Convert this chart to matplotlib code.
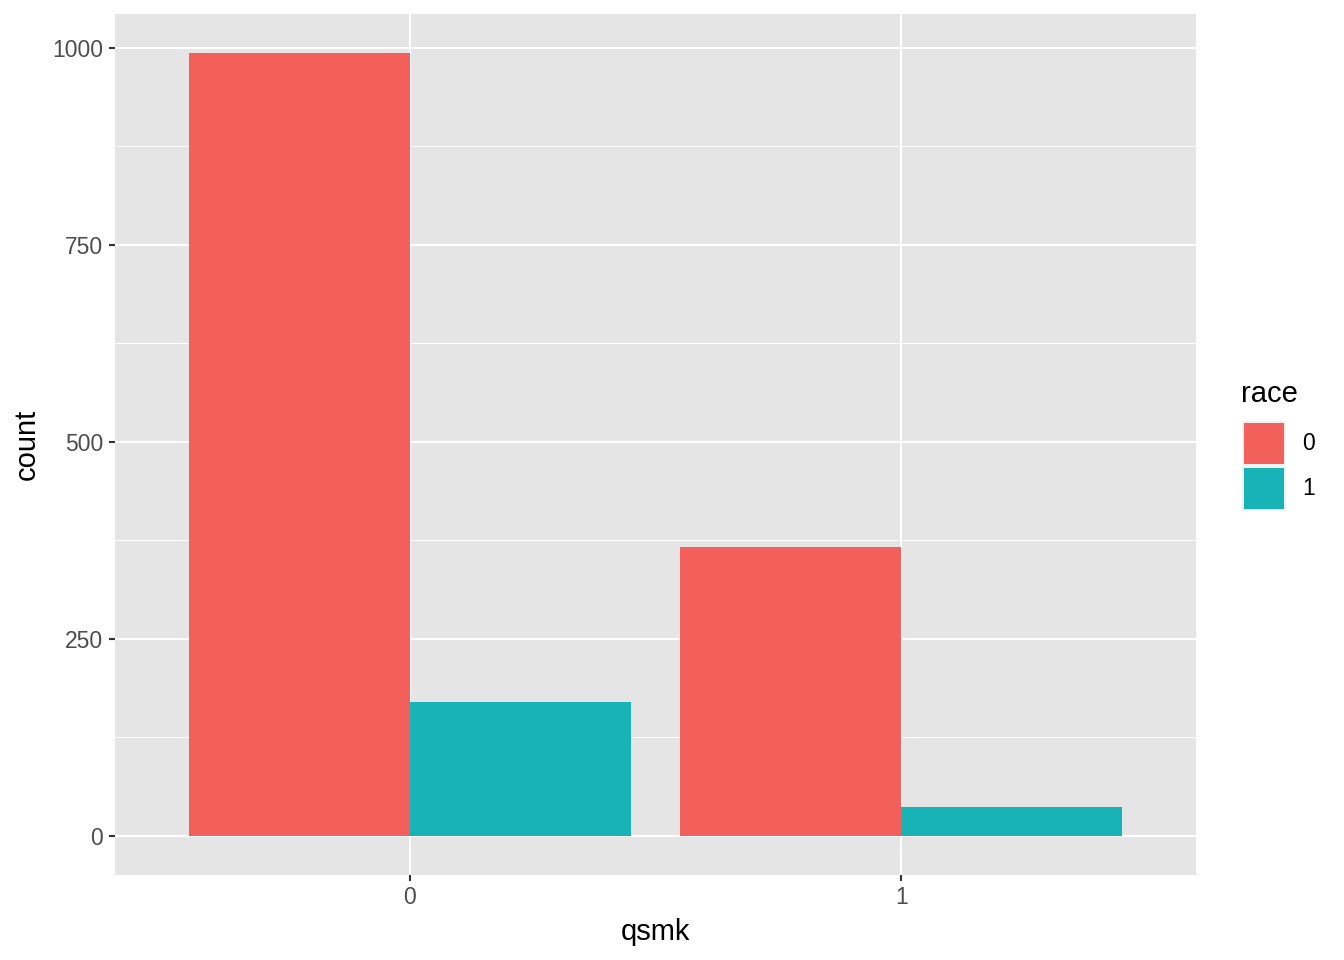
import matplotlib
matplotlib.use("Agg")
import matplotlib.pyplot as plt
from matplotlib.patches import Rectangle
import numpy as np

qsmk = ["0", "1"]
race = ["0", "1"]
counts_race0 = [993, 367]
counts_race1 = [170, 36]
colors = ["#F35F5B", "#18B3B7"]

plt.rcParams['font.family'] = ['Liberation Sans', 'DejaVu Sans']

W, H = 1344, 960
fig = plt.figure(figsize=(W / 100, H / 100), dpi=100)
fig.patch.set_facecolor("white")

L, R, T, B = 115, 1196, 14, 875
ax = fig.add_axes([L / W, 1 - B / H, (R - L) / W, (B - T) / H])
ax.set_facecolor("#E5E5E5")

x = np.arange(len(qsmk))
bw = 0.45
series = [counts_race0, counts_race1]
for i, vals in enumerate(series):
    ax.bar(x + (i - 0.5) * bw, vals, width=bw, color=colors[i], zorder=3, linewidth=0)

ymax = max(max(s) for s in series)
pad = 0.05 * ymax
ax.set_ylim(-pad, ymax + pad)
ax.set_xlim(-0.6, len(qsmk) - 1 + 0.6)

major = [0, 250, 500, 750, 1000]
minor = [125, 375, 625, 875]
ax.set_yticks(major)
ax.set_yticklabels([str(v) for v in major])
ax.set_xticks(x)
ax.set_xticklabels(qsmk)

for v in minor:
    ax.axhline(v, color="white", linewidth=0.77, zorder=1)
for v in major:
    ax.axhline(v, color="white", linewidth=1.53, zorder=1)
for v in x:
    ax.axvline(v, color="white", linewidth=1.53, zorder=1)

for s in ax.spines.values():
    s.set_visible(False)

ax.tick_params(axis="both", which="major", length=4.2, width=1.53, color="#333333",
               labelsize=16.5, labelcolor="#4D4D4D")
ax.tick_params(axis="y", pad=4.5)
ax.tick_params(axis="x", pad=4)
ax.set_xlabel("qsmk", fontsize=21, color="black", labelpad=6)
ax.set_ylabel("count", fontsize=21, color="black", labelpad=8)

# legend
fig.text(1241 / W, 1 - 394 / H, "race", fontsize=21, ha="left", va="center")
key_x, key_w = 1242, 44
key_tops = [421, 466]
for i, lab in enumerate(race):
    yt = key_tops[i]
    fig.add_artist(Rectangle((key_x / W, 1 - (yt + 45) / H), key_w / W, 45 / H,
                             transform=fig.transFigure, facecolor="#F2F2F2", edgecolor="none"))
    fig.add_artist(Rectangle(((key_x + 2) / W, 1 - (yt + 43) / H), (key_w - 4) / W, 41 / H,
                             transform=fig.transFigure, facecolor=colors[i], edgecolor="none"))
    fig.text(1302 / W, 1 - (yt + 22.5) / H, lab, fontsize=16.5, ha="left", va="center")

fig.savefig("out.png", dpi=100)
